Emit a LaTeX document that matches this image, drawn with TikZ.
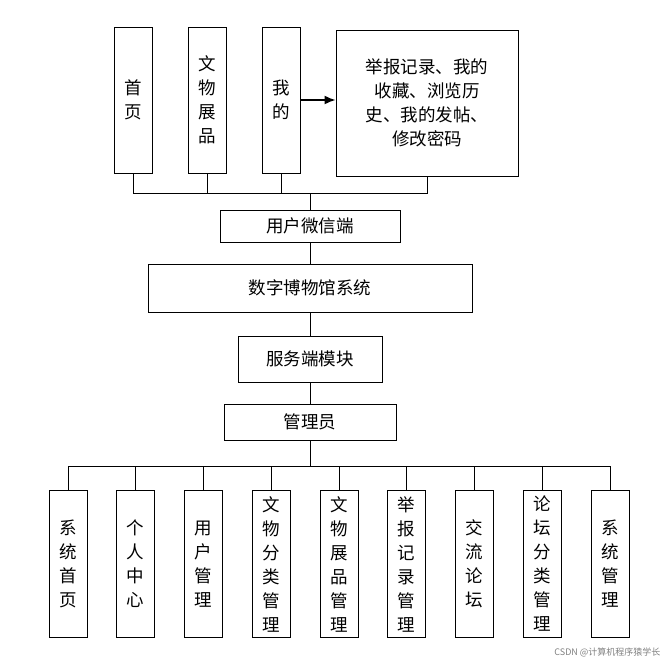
\documentclass[tikz,border=0pt]{standalone}
\usepackage{fontspec}
\usetikzlibrary{arrows.meta}
\newfontfamily\cjk{Noto Sans CJK SC}
\begin{document}
\begin{tikzpicture}[x=1pt,y=-1pt,
  box/.style={draw,line width=1pt,inner sep=0pt,font=\cjk\fontsize{17.5}{24}\selectfont,align=center},
  ln/.style={line width=1pt}]
\useasboundingbox (0,0) rectangle (666,664);
% top
\node[box,minimum width=38,minimum height=146] (a1) at (133,100) {首\\页};
\node[box,minimum width=38,minimum height=146] (a2) at (207,100) {文\\物\\展\\品};
\node[box,minimum width=38,minimum height=146] (a3) at (281,100) {我\\的};
\node[box,minimum width=182,minimum height=146] (a4) at (427,103) {举报记录、我的\\收藏、浏览历\\史、我的发帖、\\修改密码};
\draw[line width=1.5pt,-{Latex[length=11pt,width=9pt]}] (a3.east) -- (a4.west|-a3.east);
\node[box,minimum width=180,minimum height=32] (u) at (310,226) {用户微信端};
\node[box,minimum width=324,minimum height=48] (s) at (310,288) {数字博物馆系统};
\node[box,minimum width=144,minimum height=46] (f) at (310,359) {服务端模块};
\node[box,minimum width=172,minimum height=36] (g) at (310,422) {管理员};
\coordinate (t1) at (133,193); \coordinate (t4) at (427,193);
\draw[ln] (a1.south) -- (t1) -- (t4) -- (a4.south);
\draw[ln] (a2.south) -- (a2.south|-t1);
\draw[ln] (a3.south) -- (a3.south|-t1);
\draw[ln] (u.north|-t1) -- (u.north);
\draw[ln] (u) -- (s); \draw[ln] (s) -- (f); \draw[ln] (f) -- (g);
% bottom
\foreach \i/\x/\t in {1/68/系\\统\\首\\页,2/135/个\\人\\中\\心,3/203/用\\户\\管\\理,4/271/文\\物\\分\\类\\管\\理,5/339/文\\物\\展\\品\\管\\理,6/406/举\\报\\记\\录\\管\\理,7/474/交\\流\\论\\坛,8/542/论\\坛\\分\\类\\管\\理,9/610/系\\统\\管\\理}{
  \node[box,minimum width=38,minimum height=147,anchor=north] (b\i) at (\x,490) {\t};
  \draw[ln] (b\i.north) -- (\x,466);
}
\draw[ln] (68,466) -- (610,466);
\draw[ln] (g.south) -- (310,466);
\node[font=\cjk\fontsize{9}{10}\selectfont,text=gray,anchor=east] (w) at (664,652) {CSDN @计算机程序猿学长};
\end{tikzpicture}
\end{document}
